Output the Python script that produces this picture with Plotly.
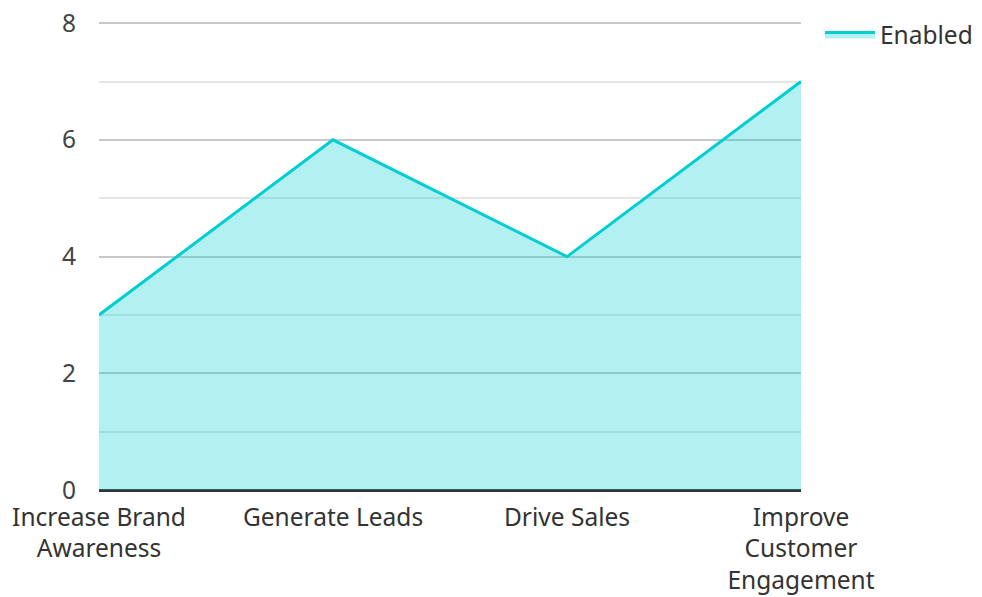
import plotly.graph_objects as go

categories = ["Increase Brand<br>Awareness", "Generate Leads", "Drive Sales", "Improve<br>Customer<br>Engagement"]
values = [3, 6, 4, 7]
series_name = "Enabled"

fig = go.Figure()
fig.add_trace(go.Scatter(
    x=categories, y=values, name=series_name, mode="lines",
    line=dict(color="#00CED1", width=3),
    fill="tozeroy", fillcolor="rgba(0,206,209,0.3)",
))

font = "Noto Sans"
fs = 24.5
fig.update_layout(
    width=982, height=597,
    margin=dict(l=91, r=189, t=14, b=115, autoexpand=False),
    plot_bgcolor="white", paper_bgcolor="white",
    font=dict(family=font, size=fs, color="#333"),
    showlegend=True,
    legend=dict(x=1.027, y=1.021, xanchor="left", yanchor="top", font=dict(size=fs, color="#333"),
                itemwidth=50),
    xaxis=dict(showgrid=False, showline=False, zeroline=False, ticks="", automargin=False,
               tickfont=dict(size=fs, color="#333"), range=[0, 3],
               ticklabelstandoff=10, ticklabeloverflow="allow"),
    yaxis=dict(range=[0, 8.02], tickvals=[0, 2, 4, 6, 8], showgrid=True, gridcolor="#c8c8c8", gridwidth=2,
               zeroline=True, zerolinecolor="#333", zerolinewidth=2.5, automargin=False,
               tickfont=dict(size=fs, color="#444"), ticklabelstandoff=22,
               ticklabeloverflow="allow",
               minor=dict(tickvals=[1, 3, 5, 7], showgrid=True, gridcolor="#e6e6e6", gridwidth=2)),
)
fig.write_html("out.html")
